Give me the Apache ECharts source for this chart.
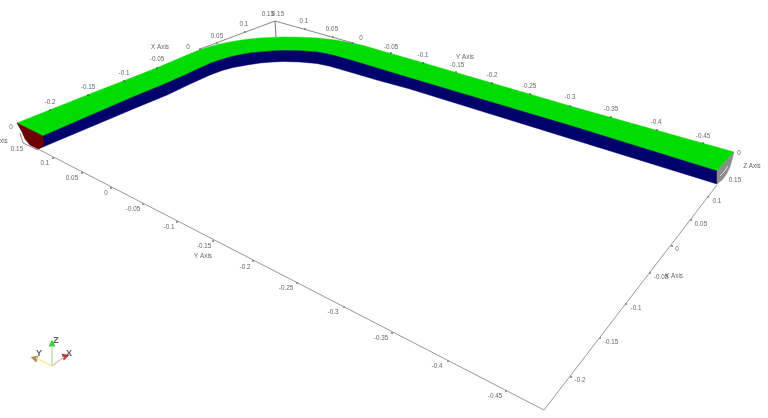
<!DOCTYPE html>
<html>
<head>
<meta charset="utf-8">
<script src="https://cdn.jsdelivr.net/npm/echarts@6/dist/echarts.min.js"></script>
<style>
html, body { margin: 0; padding: 0; background: #fff; }
#main { width: 768px; height: 418px; filter: blur(0.55px); }
</style>
</head>
<body>
<div id="main"></div>
<script>
// scene outlines (the render is a fixed 3D view)
var topEdge = [[17,123],[100,90],[140,74.5],[160,66.5],[180,58],[190,53.8],[200,49.8],[210,46.5],[220,44],[230,42],[240,40.3],[250,39],[260,38],[272,37.4],[283,37],[300,37.2],[317,38],[335,40],[350,42.5],[365,46],[380,50.5],[410,59],[570,106],[734,152]];
var middleEdge = [[43,136],[133,97],[167,83],[185,75],[200,68],[210,63.5],[220,60],[230,57],[240,54.8],[250,53],[260,52],[272,51],[283,50.5],[300,50.8],[317,52],[327,53.8],[337,56.3],[352,60.5],[367,65],[410,78],[570,125.5],[717,171]];
var bottomEdge = [[38,149],[107,120],[133,109],[167,95],[190,84],[210,75],[222,70.5],[233,67.5],[247,65],[260,63],[272,62],[283,61.5],[300,62],[317,63.5],[330,66.3],[343,70],[377,80],[410,89],[557,134.5],[717,184]];
var greenFace = topEdge.concat(middleEdge.slice().reverse());
var blueFace = middleEdge.concat(bottomEdge.slice().reverse());
var redCap = [[17,123],[43,136],[44,144],[42,147],[38,149],[34,147],[30,145],[25,139],[22,132]];
var grayCap = [[734,152],[717,171],[717,184],[722,180],[726,175],[730,167],[732,160]];

var axisBottomLeft = [[38,149],[544,410]];
var axisBottomRight = [[544,410],[717,185]];
var axisTopLeft = [[200,49],[275,21]];
var axisTopRight = [[275,21],[353,43]];
var axisTopDown = [[275,21],[276,37]];
var axisLeftStub = [[20,133],[23,143],[38,150]];
var axisRightStub = [[728,166],[724,172],[720,176]];

var tickPoints = [[53,158],[82,173],[111,188],[143,204],[177,222],[213,241],[253,261],[297,283],[344,307],[392,333],[448,361],[506,391],
    [708,197],[691,220],[672,246],[650,273],[626,304],[600,338],[571,377],
    [50,110],[88,95],[124,81],[157,68],[200,49],[217,43],[245,32],[305,29],[333,37],[353,43],
    [391,53],[423,63],[456,72],[492,83],[530,94],[570,106],[611,117],[657,130],[703,143]];

var labelText = ['0','Z Axis','0.15','0.1','0.05','0','-0.05','-0.1','-0.15','Y Axis','-0.2','-0.25','-0.3','-0.35','-0.4','-0.45',
    '-0.2','-0.15','-0.1','-0.05','X Axis','0','0.05','0.1','0.15','0.15','0.1','0.05','0',
    '-0.05','-0.1','Y Axis','-0.15','-0.2','-0.25','-0.3','-0.35','-0.4','-0.45','0','Z Axis','0.15','0.1',
    '0.05','0','-0.05','X Axis','-0.1','-0.15','-0.2'];
var labelPoints = [[11,127],[-1,141],[17,149],[45,163],[72,178],[106,193],[133,209],[169,227],[204,246],[203,256],[245,267],[286,288],[333,312],[381,338],[437,366],[495,396],
    [50,102],[88,87],[124,73],[157,59],[160,47],[188,47],[217,36],[244,24],[268,14],[278,14],[304,21],[332,29],[361,38],
    [391,47],[423,55],[465,57],[457,65],[492,75],[529,86],[570,97],[611,109],[656,122],[703,136],[739,153],[752,166],[735,180],[717,201],
    [701,224],[677,249],[661,277],[674,276],[636,308],[611,342],[580,380]];

// orientation triad
var triadOrigin = [52,366];
var triadEnds = [[52,346],[36,358],[64,357]];
var triadColors = ['#b5e8b5','#f5ef9a','#f5c0c0'];
var triadCones = [[52,343],[34,358],[66,356]];
var triadConeRotate = [0, 72, -72];
var triadConeColors = ['#0ec40e','#9a6a2a','#b00000'];
var triadText = ['Z','Y','X'];
var triadTextPoints = [[56,341],[39,354],[69,354]];

function polygon(points, color) {
    return {
        type: 'custom',
        coordinateSystem: 'cartesian2d',
        data: points,
        clip: false,
        silent: true,
        renderItem: function (params, api) {
            if (params.dataIndex !== 0) return null;
            return {
                type: 'polygon',
                shape: { points: points.map(function (p) { return api.coord(p); }) },
                style: { fill: color, stroke: color, lineWidth: 0.5 }
            };
        }
    };
}

function line(points, color, width) {
    return {
        type: 'line',
        data: points,
        showSymbol: false,
        silent: true,
        clip: false,
        lineStyle: { color: color, width: width }
    };
}

var series = [
    line(axisBottomLeft, '#999', 1),
    line(axisBottomRight, '#999', 1),
    line(axisTopLeft, '#888', 1),
    line(axisTopRight, '#888', 1),
    line(axisTopDown, '#777', 1),
    line(axisLeftStub, '#888', 1),
    polygon(greenFace, '#00dc00'),
    polygon(blueFace, '#00006b'),
    polygon(redCap, '#6b0000'),
    polygon(grayCap, '#8c8c8c'),
    line(axisRightStub, '#ddd', 1),
    {
        type: 'scatter',
        data: tickPoints,
        symbolSize: 2,
        silent: true,
        clip: false,
        itemStyle: { color: '#555' }
    },
    {
        type: 'scatter',
        data: labelPoints.map(function (p, i) { return { value: p, name: labelText[i] }; }),
        symbolSize: 0,
        silent: true,
        clip: false,
        label: {
            show: true,
            position: 'inside',
            formatter: '{b}',
            color: '#3c3c3c',
            fontFamily: 'Liberation Sans',
            fontSize: 6.3
        }
    }
];

triadEnds.forEach(function (end, i) {
    series.push(line([triadOrigin, end], triadColors[i], 1.5));
    series.push({
        type: 'scatter',
        data: [triadCones[i]],
        symbol: 'triangle',
        symbolSize: 7,
        symbolRotate: triadConeRotate[i],
        silent: true,
        itemStyle: { color: triadConeColors[i] }
    });
});
series.push({
    type: 'scatter',
    data: triadTextPoints.map(function (p, i) { return { value: p, name: triadText[i] }; }),
    symbolSize: 0,
    silent: true,
    label: {
        show: true,
        position: 'inside',
        formatter: '{b}',
        color: '#333',
        fontFamily: 'Liberation Sans',
        fontWeight: 'bold',
        fontSize: 9
    }
});

var myChart = echarts.init(document.getElementById('main'));
myChart.setOption({
    animation: false,
    backgroundColor: '#fff',
    tooltip: { show: false },
    grid: { left: 0, right: 0, top: 0, bottom: 0 },
    xAxis: { type: 'value', min: 0, max: 768, show: false },
    yAxis: { type: 'value', min: 0, max: 418, inverse: true, show: false },
    series: series
});
</script>
</body>
</html>
